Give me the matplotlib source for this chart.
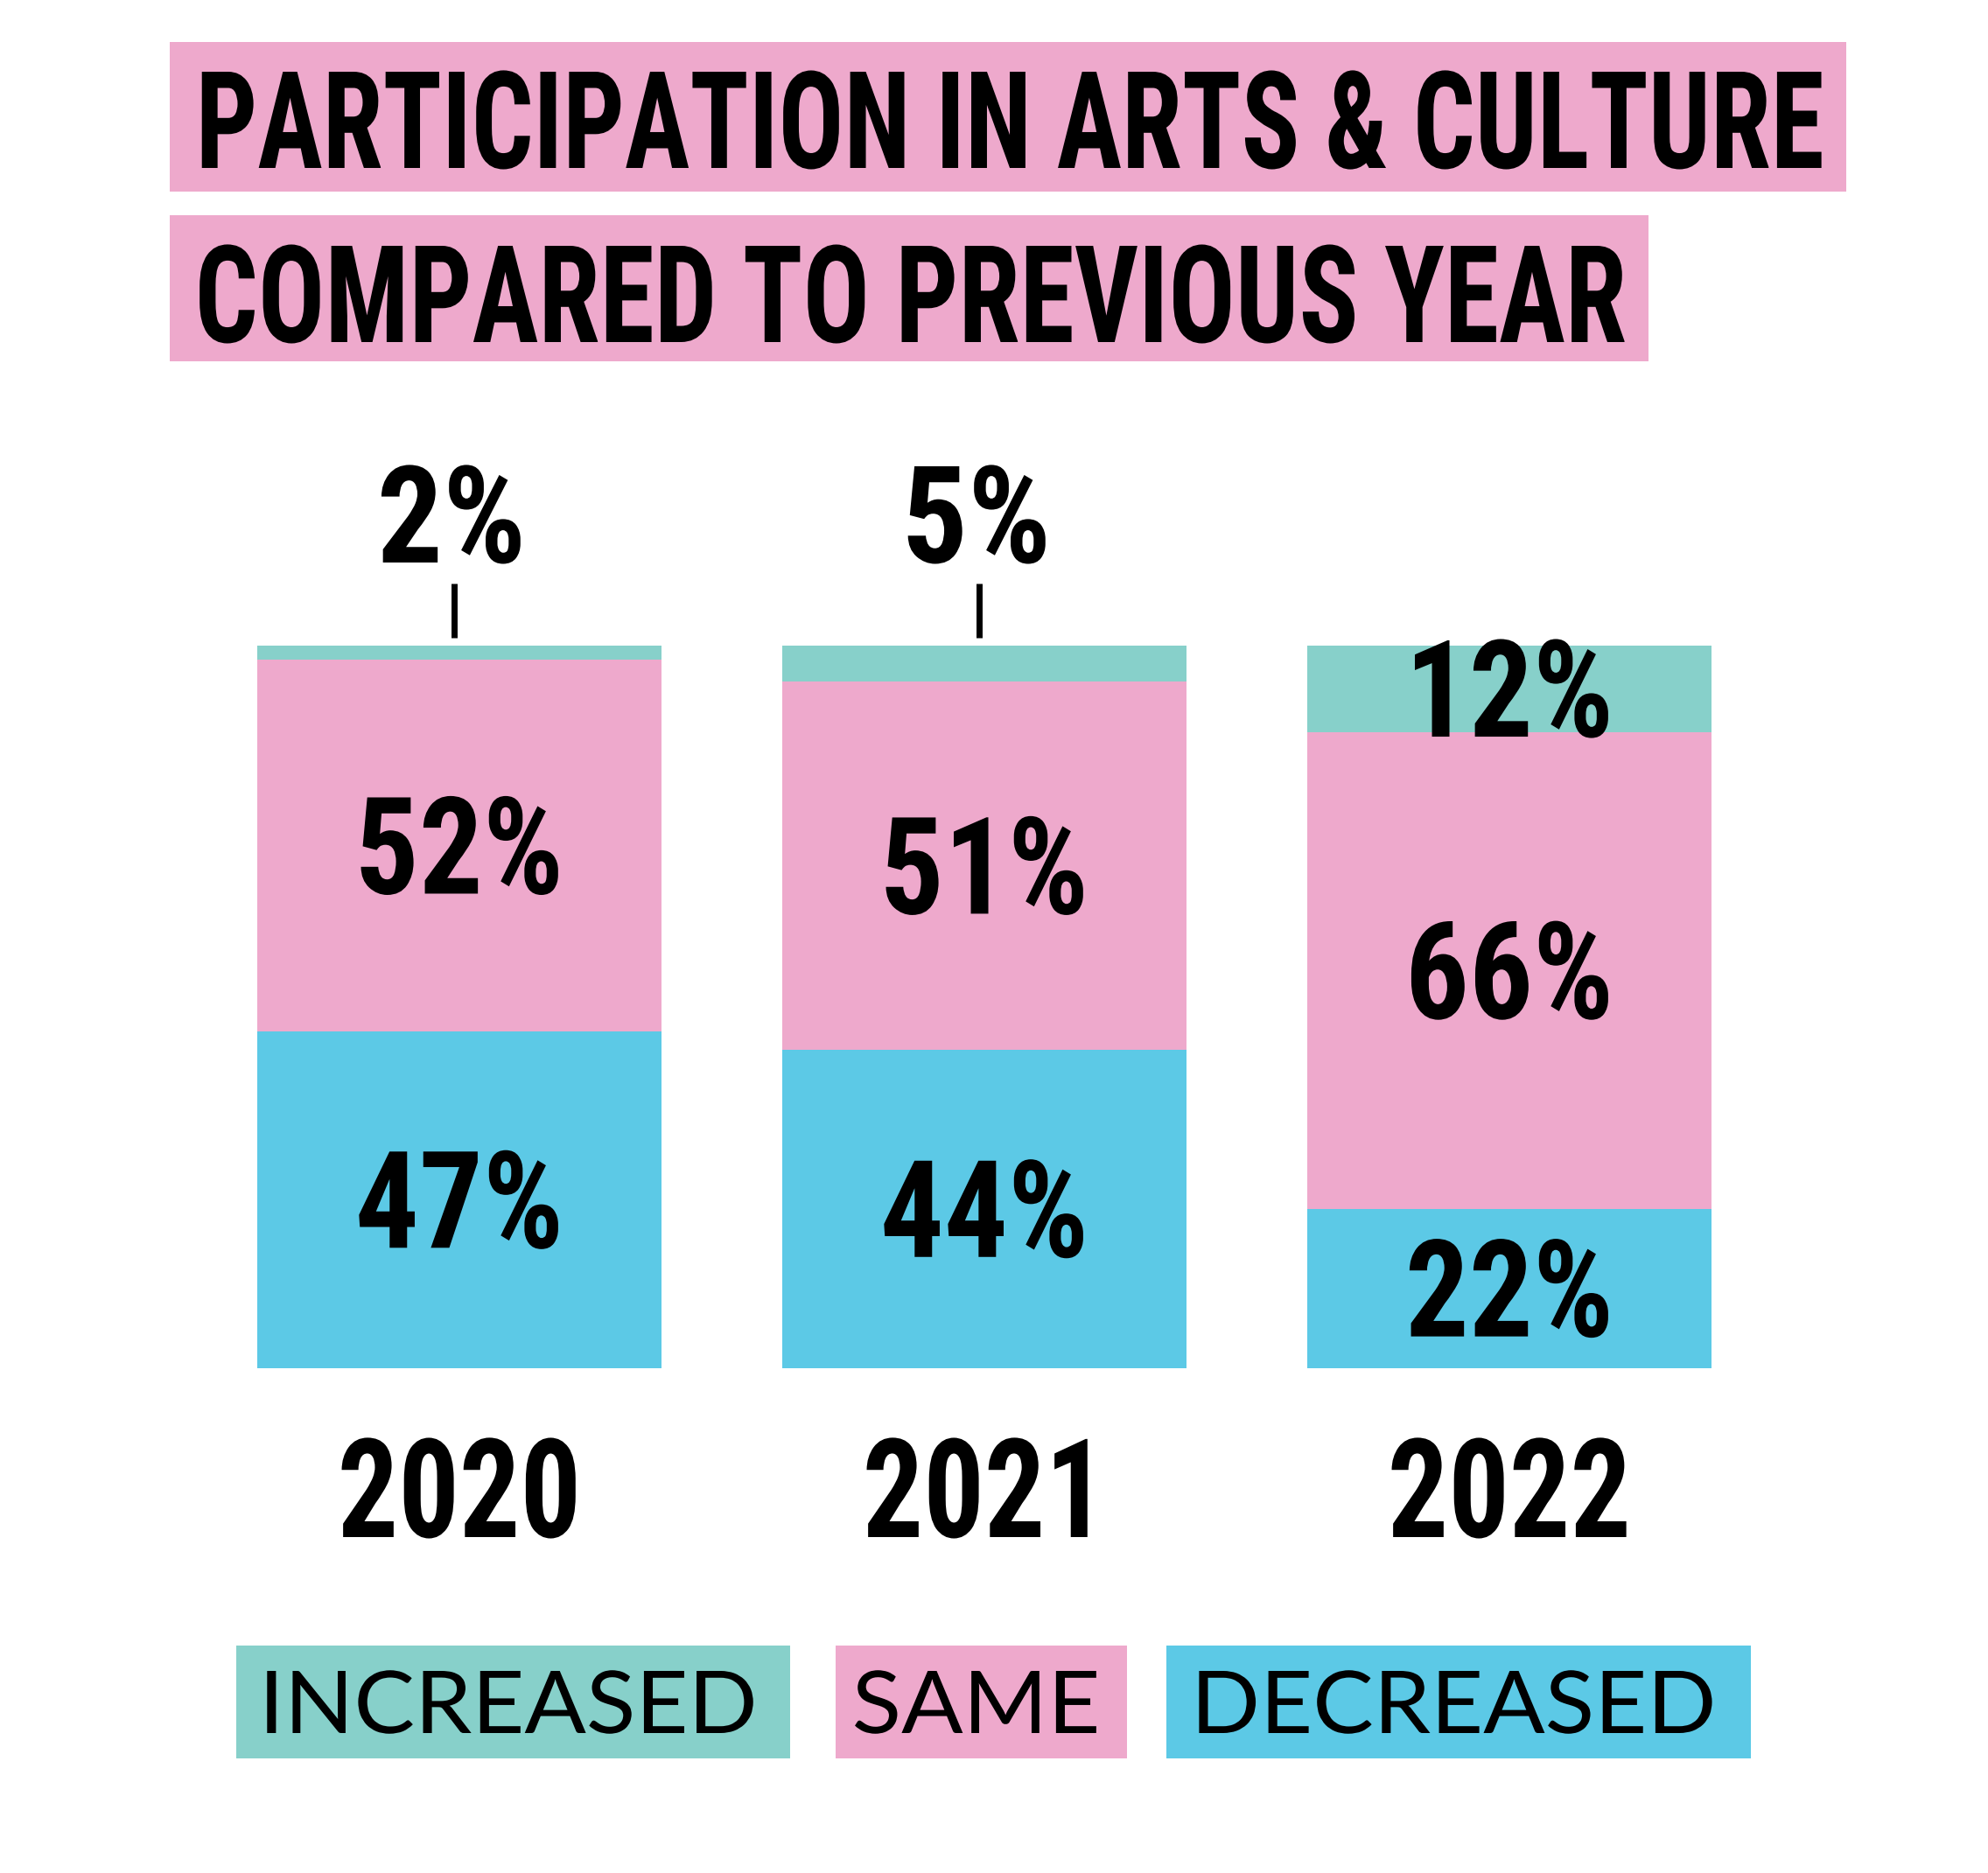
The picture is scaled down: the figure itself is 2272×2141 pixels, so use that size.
import numpy as np
import matplotlib
matplotlib.use('Agg')
import matplotlib.pyplot as plt
from matplotlib.patches import Rectangle
from matplotlib.lines import Line2D
from matplotlib.patheffects import AbstractPathEffect
from matplotlib.transforms import Affine2D, blended_transform_factory, ScaledTranslation
from matplotlib.textpath import TextPath
from matplotlib.font_manager import FontProperties, fontManager

# ---------------- data ----------------
years = ['2020', '2021', '2022']
categories = ['INCREASED', 'SAME', 'DECREASED']
increased = [2, 5, 12]
same = [52, 51, 66]
decreased = [47, 44, 22]
title_lines = ['PARTICIPATION IN ARTS & CULTURE', 'COMPARED TO PREVIOUS YEAR']

TEAL, PINK, BLUE = '#87D0CA', '#EEA9CC', '#5CC9E6'
cat_colors = {'INCREASED': TEAL, 'SAME': PINK, 'DECREASED': BLUE}

W, H, DPI = 2272, 2141, 100
fig = plt.figure(figsize=(W / DPI, H / DPI), dpi=DPI)
fig.patch.set_facecolor('white')

names = {f.name for f in fontManager.ttflist}


def pick(cands):
    for n in cands:
        if n in names:
            return n
    return 'DejaVu Sans'


HEAD = pick(['Liberation Sans Narrow', 'Roboto Condensed', 'DejaVu Sans'])
BODY = pick(['Lato', 'Open Sans', 'Noto Sans', 'DejaVu Sans'])


class Stretch(AbstractPathEffect):
    """Vertically scale a text path about its baseline (tall condensed look)."""

    def __init__(self, sy=1.0):
        super().__init__()
        self.sy = sy

    def draw_path(self, renderer, gc, tpath, affine, rgbFace=None):
        t = Affine2D().scale(1.0, self.sy) + affine
        renderer.draw_path(gc, tpath, t, rgbFace)


def style(family, weight, cap_px, ref_text, ref_w):
    fp = FontProperties(family=family, weight=weight)
    cap100 = TextPath((0, 0), 'H', size=100, prop=fp).vertices[:, 1].max()
    v = TextPath((0, 0), ref_text, size=100, prop=fp).vertices
    w100 = v[:, 0].max() - v[:, 0].min()
    font_px = ref_w / (w100 / 100.0)
    sy = cap_px / (cap100 / 100.0 * font_px)
    return dict(family=family, weight=weight, fontsize=font_px * 72.0 / DPI,
                path_effects=[Stretch(sy)], color='black')


def fx(x):
    return x / W


def fy(y):
    return 1 - y / H


# ---------------- title ----------------
title_styles = [style(HEAD, 'bold', 110, title_lines[0], 1858),
                style(HEAD, 'bold', 110, title_lines[1], 1634)]
title_boxes = [(194, 48, 2110, 219), (194, 246, 1884, 413)]
title_base = [192, 391]
for line, (x0, y0, x1, y1), yb, st in zip(title_lines, title_boxes, title_base, title_styles):
    fig.add_artist(Rectangle((fx(x0), fy(y1)), (x1 - x0) / W, (y1 - y0) / H,
                             transform=fig.transFigure, facecolor=PINK,
                             edgecolor='none', zorder=0))
    fig.text(fx((x0 + x1) / 2 + 2), fy(yb), line, ha='center', va='baseline', **st)

# ---------------- bars ----------------
ax = fig.add_axes([0, 577.5 / H, 1, 826 / H])
ax.set_xlim(-0.875, (W - 525) / 600)
ax.set_ylim(0, 100)
ax.axis('off')

x = np.arange(len(years))
inc = np.array(increased, float)
sam = np.array(same, float)
dec = np.array(decreased, float)
tot = inc + sam + dec
inc_s, sam_s, dec_s = inc / tot * 100, sam / tot * 100, dec / tot * 100

bw = 0.77
ax.bar(x, dec_s, width=bw, color=BLUE, edgecolor='none')
ax.bar(x, sam_s, width=bw, bottom=dec_s, color=PINK, edgecolor='none')
ax.bar(x, inc_s, width=bw, bottom=dec_s + sam_s, color=TEAL, edgecolor='none')

lab_style = style(HEAD, 'bold', 110, '52%', 232)
out_style = style(HEAD, 'bold', 110, '2%', 164)
year_style = style(HEAD, 'bold', 112, '2020', 272)

blend = blended_transform_factory(ax.transData, fig.transFigure)
lab_tr = ax.transData + ScaledTranslation(0, -55 / DPI, fig.dpi_scale_trans)

segments = [(dec, dec_s, np.zeros_like(dec_s)),
            (sam, sam_s, dec_s),
            (inc, inc_s, dec_s + sam_s)]
for vals, shares, bottoms in segments:
    for xi, v, s, b in zip(x, vals, shares, bottoms):
        if v >= 10:
            ax.text(xi, b + s / 2, f'{int(v)}%', transform=lab_tr,
                    ha='center', va='baseline', clip_on=False, **lab_style)
        else:
            ax.text(xi - 0.015, fy(643), f'{int(v)}%', transform=blend,
                    ha='center', va='baseline', clip_on=False, **out_style)
            ax.add_line(Line2D([xi - 0.01, xi - 0.01], [fy(667), fy(729)],
                               transform=blend, color='black', lw=5,
                               solid_capstyle='butt', clip_on=False))

for xi, yr in zip(x, years):
    ax.text(xi, fy(1757), yr, transform=blend, ha='center', va='baseline',
            clip_on=False, **year_style)

# ---------------- legend ----------------
leg_style = style(BODY, 'normal', 71, 'INCREASED', 565)
leg_boxes = [(270, 903), (955, 1288), (1333, 2001)]
for cat, (x0, x1) in zip(categories, leg_boxes):
    fig.add_artist(Rectangle((fx(x0), fy(2010)), (x1 - x0) / W, (2010 - 1881) / H,
                             transform=fig.transFigure, facecolor=cat_colors[cat],
                             edgecolor='none', zorder=0))
    fig.text(fx((x0 + x1) / 2 - 6), fy(1981), cat, ha='center', va='baseline',
             **leg_style)

fig.savefig('out.png', dpi=DPI, facecolor='white')
